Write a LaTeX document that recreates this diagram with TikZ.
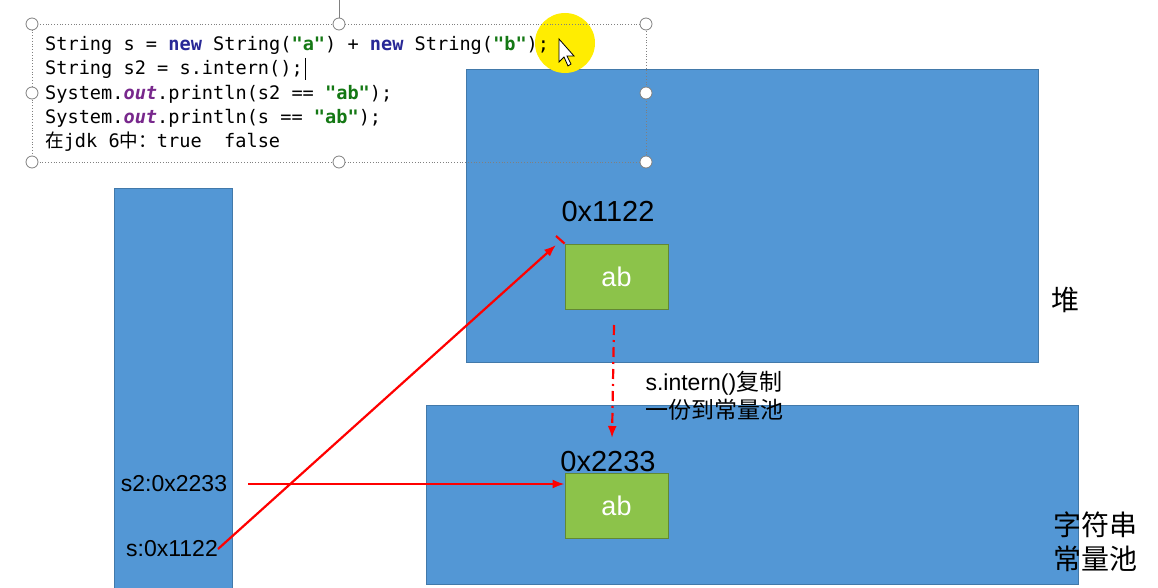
\documentclass[tikz,border=0pt]{standalone}
\usepackage{fontspec}
\setmainfont{Liberation Sans}
\newfontfamily\cjk{Noto Sans CJK SC}
\newfontfamily\code{DejaVu Sans Mono}
\usetikzlibrary{arrows.meta}
\definecolor{boxblue}{RGB}{83,151,213}
\definecolor{boxgreen}{RGB}{140,195,74}
\definecolor{kw}{RGB}{40,40,150}
\definecolor{str}{RGB}{20,120,20}
\definecolor{fld}{RGB}{120,40,140}
\tikzset{
  region/.style={fill=boxblue, draw=boxblue!80!black, line width=0.8pt},
  obj/.style={fill=boxgreen, draw=boxgreen!70!black, line width=0.8pt, minimum width=103pt, minimum height=65pt, text=white, font=\fontsize{27}{30}\selectfont},
  addr/.style={font=\fontsize{29}{32}\selectfont},
  lbl/.style={font=\fontsize{23}{27}\selectfont},
  ref/.style={draw=red, line width=2.2pt, -{Latex[length=12pt,width=9pt]}},
  handle/.style={circle, draw=gray, fill=white, line width=0.8pt, minimum size=12pt, inner sep=0pt},
  codeline/.style={anchor=west, inner sep=0pt, font=\code\fontsize{18.6}{21}\selectfont}
}
\begin{document}
\begin{tikzpicture}[x=1pt,y=-1pt]
\useasboundingbox (0,0) rectangle (1158,588);
\fill[white] (0,0) rectangle (1158,588);
% regions
\fill[region] (114,188) rectangle (232,592);
\fill[region] (466,69) rectangle (1038,362);
\fill[region] (426,405) rectangle (1078,584);
% objects
\node[obj] (h) at (616.5,276.5) {ab};
\node[obj] (p) at (616.5,505.5) {ab};
\node[addr] (a1) at (608,212) {0x1122};
\node[addr] (a2) at (608,462) {0x2233};
\node[font=\cjk\fontsize{28}{32}\selectfont] (heap) at (1065,300) {堆};
\node[font=\cjk\fontsize{28}{34}\selectfont, align=center] (pool) at (1095,542) {字符串\\常量池};
\node[lbl] (s2) at (174,484) {s2:0x2233};
\node[lbl] (s1) at (172,549) {s:0x1122};
\node[anchor=west, align=left, font=\fontsize{23}{28}\selectfont] (note) at (642,396) {s.intern()\cjk 复制\\\cjk 一份到常量池};
% connectors
\coordinate (s2e) at (248,484);
\coordinate (s1e) at (218,549);
\coordinate (tip) at (556,245);
\coordinate (tick) at (556,236);
\draw[ref] (s2e) -- (s2e -| p.west);
\draw[ref] (s1e) -- (tip);
\draw[red, line width=2.2pt] (tick) -- (h.north west);
\coordinate (ds) at (614,325);
\coordinate (de) at (612,438);
\draw[ref, dash pattern=on 10pt off 5pt on 2pt off 5pt] (ds) -- (de);
% code box
\fill[yellow!95!orange] (565,43) circle (30);
\draw[gray, line width=0.8pt] (339,0) -- (339,24);
\draw[gray, dotted, line width=0.8pt] (32,24) rectangle (646,162);
\foreach \p in {(32,24),(339,24),(646,24),(32,93),(646,93),(32,162),(339,162),(646,162)}
  \node[handle] at \p {};
\node[codeline] (c1) at (45,45) {String s = \textcolor{kw}{\bfseries new} String(\textcolor{str}{\bfseries"a"}) + \textcolor{kw}{\bfseries new} String(\textcolor{str}{\bfseries"b"});};
\node[codeline] (c2) at (45,69) {String s2 = s.intern();};
\node[codeline] (c3) at (45,94) {System.\textcolor{fld}{\bfseries\itshape out}.println(s2 == \textcolor{str}{\bfseries"ab"});};
\node[codeline] (c4) at (45,118) {System.\textcolor{fld}{\bfseries\itshape out}.println(s == \textcolor{str}{\bfseries"ab"});};
\node[codeline] (c5) at (45,142) {{\cjk 在}jdk 6{\cjk 中：}true\ \ false};
\draw[black, line width=0.8pt] (c2.east) ++(2,-11) -- ++(0,22);
% cursor
\draw[black, fill=white, line width=0.8pt] (559,39) -- (559,62) -- (564,57) -- (568,66) -- (571,64) -- (567,56) -- (574,56) -- cycle;
\end{tikzpicture}
\end{document}
